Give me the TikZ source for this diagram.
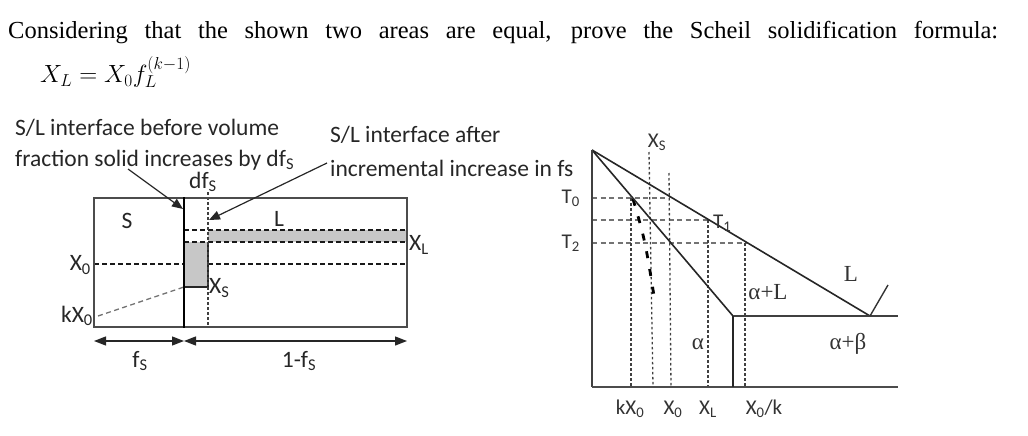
\documentclass[tikz,border=0pt]{standalone}
\usepackage{fontspec}
\setmainfont{Liberation Serif}
\newfontfamily\labfont{Carlito}
\usetikzlibrary{arrows.meta}
\newcommand\lsub[1]{\textsubscript{#1}}
\begin{document}
\begin{tikzpicture}[x=1pt,y=-1pt,
  lab/.style={font=\labfont\fontsize{23.5}{26}\selectfont, inner sep=0pt, text=black!85},
  rlab/.style={font=\labfont\fontsize{21}{24}\selectfont, inner sep=0pt, text=black!80},
  glab/.style={font=\fontsize{23}{26}\selectfont, inner sep=0pt, text=black!80},
  box/.style={draw=black!70, line width=1.8pt},
  dsh/.style={draw=black!90, line width=1.3pt, dash pattern=on 5pt off 3pt},
  gdsh/.style={draw=black!55, line width=1.3pt, dash pattern=on 5pt off 3.5pt},
  dot/.style={draw=black!75, line width=1.3pt, dash pattern=on 2.5pt off 2.5pt},
  ptr/.style={draw=black!85, line width=1.2pt, -{Triangle[length=11pt,width=9pt]}},
  dim/.style={draw=black!85, line width=1.3pt, {Triangle[length=12pt,width=9pt]}-{Triangle[length=12pt,width=9pt]}},
]
\useasboundingbox (0,0) rectangle (1028,436);

% ---------- header ----------
\node[anchor=west, inner sep=0pt, font=\fontsize{24.5}{28}\selectfont] (title) at (8,33)
  {\makebox[990pt][s]{Considering that the shown two areas are equal, prove the Scheil solidification formula:}};
\node[anchor=west, inner sep=0pt, font=\fontsize{24}{28}\selectfont] (formula) at (40,72)
  {$X_L = X_0 f_L^{(k-1)}$};

% ---------- left diagram ----------
\node[lab, anchor=west] (t1a) at (15,128) {S/L interface before volume};
\node[lab, anchor=west] (t1b) at (15,160) {fraction solid increases by df\lsub{S}};
\node[lab, anchor=west] (t2a) at (330,135) {S/L interface after};
\node[lab, anchor=west] (t2b) at (330,168) {incremental increase in fs};
\node[lab] (dfs) at (203,182) {df\lsub{S}};

\fill[black!22] (208,230) rectangle (407,242);
\fill[black!22] (184,242) rectangle (208,287);
\draw[dsh] (184,230) -- (407,230);
\draw[dsh] (184,242) -- (407,242);
\draw[dsh] (94,264) -- (184,264);
\draw[dsh] (208,264) -- (407,264);
\draw[gdsh] (98,316) -- (184,287);
\draw[draw=black!85, line width=1.5pt] (184,287) -- (208,287) -- (208,242);
\draw[dot] (208,192) -- (208,327);
\draw[box] (94,198) rectangle (407,327);
\draw[black, line width=2.6pt] (184,197) -- (184,328);

\node[lab] (S) at (127,221) {S};
\node[lab] (L) at (279,219) {L};
\node[lab, anchor=east] (x0l) at (91,265) {X\lsub{0}};
\node[lab, anchor=east] (kx0l) at (93,316) {kX\lsub{0}};
\node[lab, anchor=west] (xsl) at (209,288) {X\lsub{S}};
\node[lab, anchor=west] (xll) at (409,245) {X\lsub{L}};

\coordinate (p1s) at (128,169);
\coordinate (p1e) at (183,209);
\coordinate (p2s) at (327,163);
\coordinate (p2e) at (209,220);
\draw[ptr] (p1s) -- (p1e);
\draw[ptr] (p2s) -- (p2e);

\coordinate (d0) at (94,341);
\coordinate (d1) at (184,341);
\coordinate (d2) at (407,341);
\draw[dim] (d0) -- (d1);
\draw[dim] (d1) -- (d2);
\node[lab] (fs) at (140,361) {f\lsub{S}};
\node[lab] (omfs) at (299,361) {1-f\lsub{S}};

% ---------- right diagram ----------
\coordinate (A) at (592,150);
\coordinate (E) at (870,316);
\coordinate (Sd) at (733,316);
\coordinate (O) at (592,387);
\coordinate (B) at (898,387);

\draw[gdsh] (592,198) -- (670,198);
\draw[gdsh] (592,220) -- (709,220);
\draw[gdsh] (592,243) -- (747,243);
\draw[dot] (631,198) -- (631,387);
\draw[dot] (649,152) -- (653,387);
\draw[dot] (669,173) -- (671,387);
\draw[dot] (708,220) -- (708,387);
\draw[dot] (745,243) -- (745,387);
\draw[black, line width=2.8pt, dash pattern=on 7pt off 11pt] (633,199) .. controls (645,240) .. (655,302);

\draw[black!85, line width=1.6pt] (A) -- (E);
\draw[black!85, line width=1.6pt] (A) -- (Sd);
\draw[black!75, line width=2pt] (A) -- (O);
\draw[black!70, line width=2.4pt] (O) -- (B);
\draw[black!75, line width=2pt] (Sd) -- (898,316);
\draw[black!85, line width=2.4pt] (Sd) -- (733,387);
\draw[black!80, line width=1.4pt] (E) -- (888,285);

\node[rlab] (xs) at (657,142) {X\lsub{S}};
\node[rlab, anchor=east] (T0) at (580,198) {T\lsub{0}};
\node[rlab, anchor=east] (T2) at (580,243) {T\lsub{2}};
\node[rlab, anchor=west] (T1) at (713,223) {T\lsub{1}};
\node[glab] (aL) at (768,292) {α+L};
\node[glab] (Lr) at (851,274) {L};
\node[glab] (ab) at (848,344) {α+β};
\node[glab] (al) at (698,344) {α};
\node[rlab] (bk) at (630,409) {kX\lsub{0}};
\node[rlab] (b0) at (673,409) {X\lsub{0}};
\node[rlab] (bl) at (708,409) {X\lsub{L}};
\node[rlab] (bk2) at (764,409) {X\lsub{0}/k};
\end{tikzpicture}
\end{document}
